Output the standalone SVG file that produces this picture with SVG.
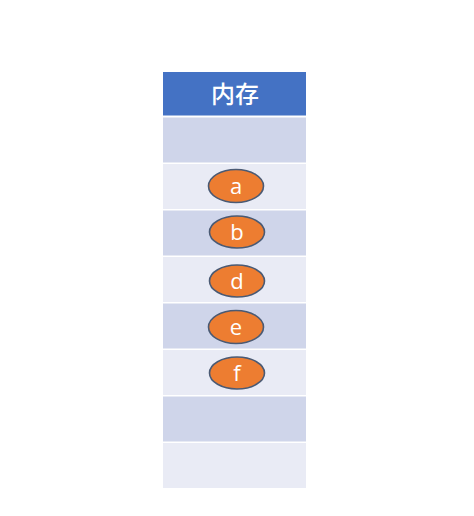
<svg xmlns="http://www.w3.org/2000/svg" width="474" height="516" viewBox="0 0 474 516">
<style>
.dark{fill:#CFD5EA}
.light{fill:#E9EBF5}
.ov{fill:#ED7D31;stroke:#4A5A74;stroke-width:1.6}
.lt{fill:#ffffff;font-family:"Open Sans","Liberation Sans",sans-serif;font-size:22px;text-anchor:middle}
.hd{fill:#ffffff;font-family:"Noto Sans CJK SC",sans-serif;font-size:24px;font-weight:500;text-anchor:middle}
</style>
<rect width="474" height="516" fill="#ffffff"/>
<g id="table">
<rect x="163" y="72" width="143" height="43.5" fill="#4472C4"/>
<text class="hd" x="235" y="102.5">内存</text>
<rect class="dark" x="163" y="117.5" width="143" height="45"/>
<rect class="light" x="163" y="164" width="143" height="45"/>
<rect class="dark" x="163" y="210.5" width="143" height="45"/>
<rect class="light" x="163" y="257" width="143" height="45"/>
<rect class="dark" x="163" y="303.5" width="143" height="45"/>
<rect class="light" x="163" y="350" width="143" height="45"/>
<rect class="dark" x="163" y="396.5" width="143" height="45"/>
<rect class="light" x="163" y="443" width="143" height="45"/>
</g>
<g id="node-a"><ellipse class="ov" cx="236" cy="186" rx="27.5" ry="16.5"/><text class="lt" x="236" y="194">a</text></g>
<g id="node-b"><ellipse class="ov" cx="237" cy="232" rx="27.5" ry="16"/><text class="lt" x="237" y="240">b</text></g>
<g id="node-d"><ellipse class="ov" cx="237" cy="281" rx="27.5" ry="16"/><text class="lt" x="237" y="289">d</text></g>
<g id="node-e"><ellipse class="ov" cx="236" cy="327" rx="27.5" ry="16.5"/><text class="lt" x="236" y="335">e</text></g>
<g id="node-f"><ellipse class="ov" cx="237" cy="373" rx="27.5" ry="16"/><text class="lt" x="237" y="381">f</text></g>
<g id="connectors"/>
</svg>
